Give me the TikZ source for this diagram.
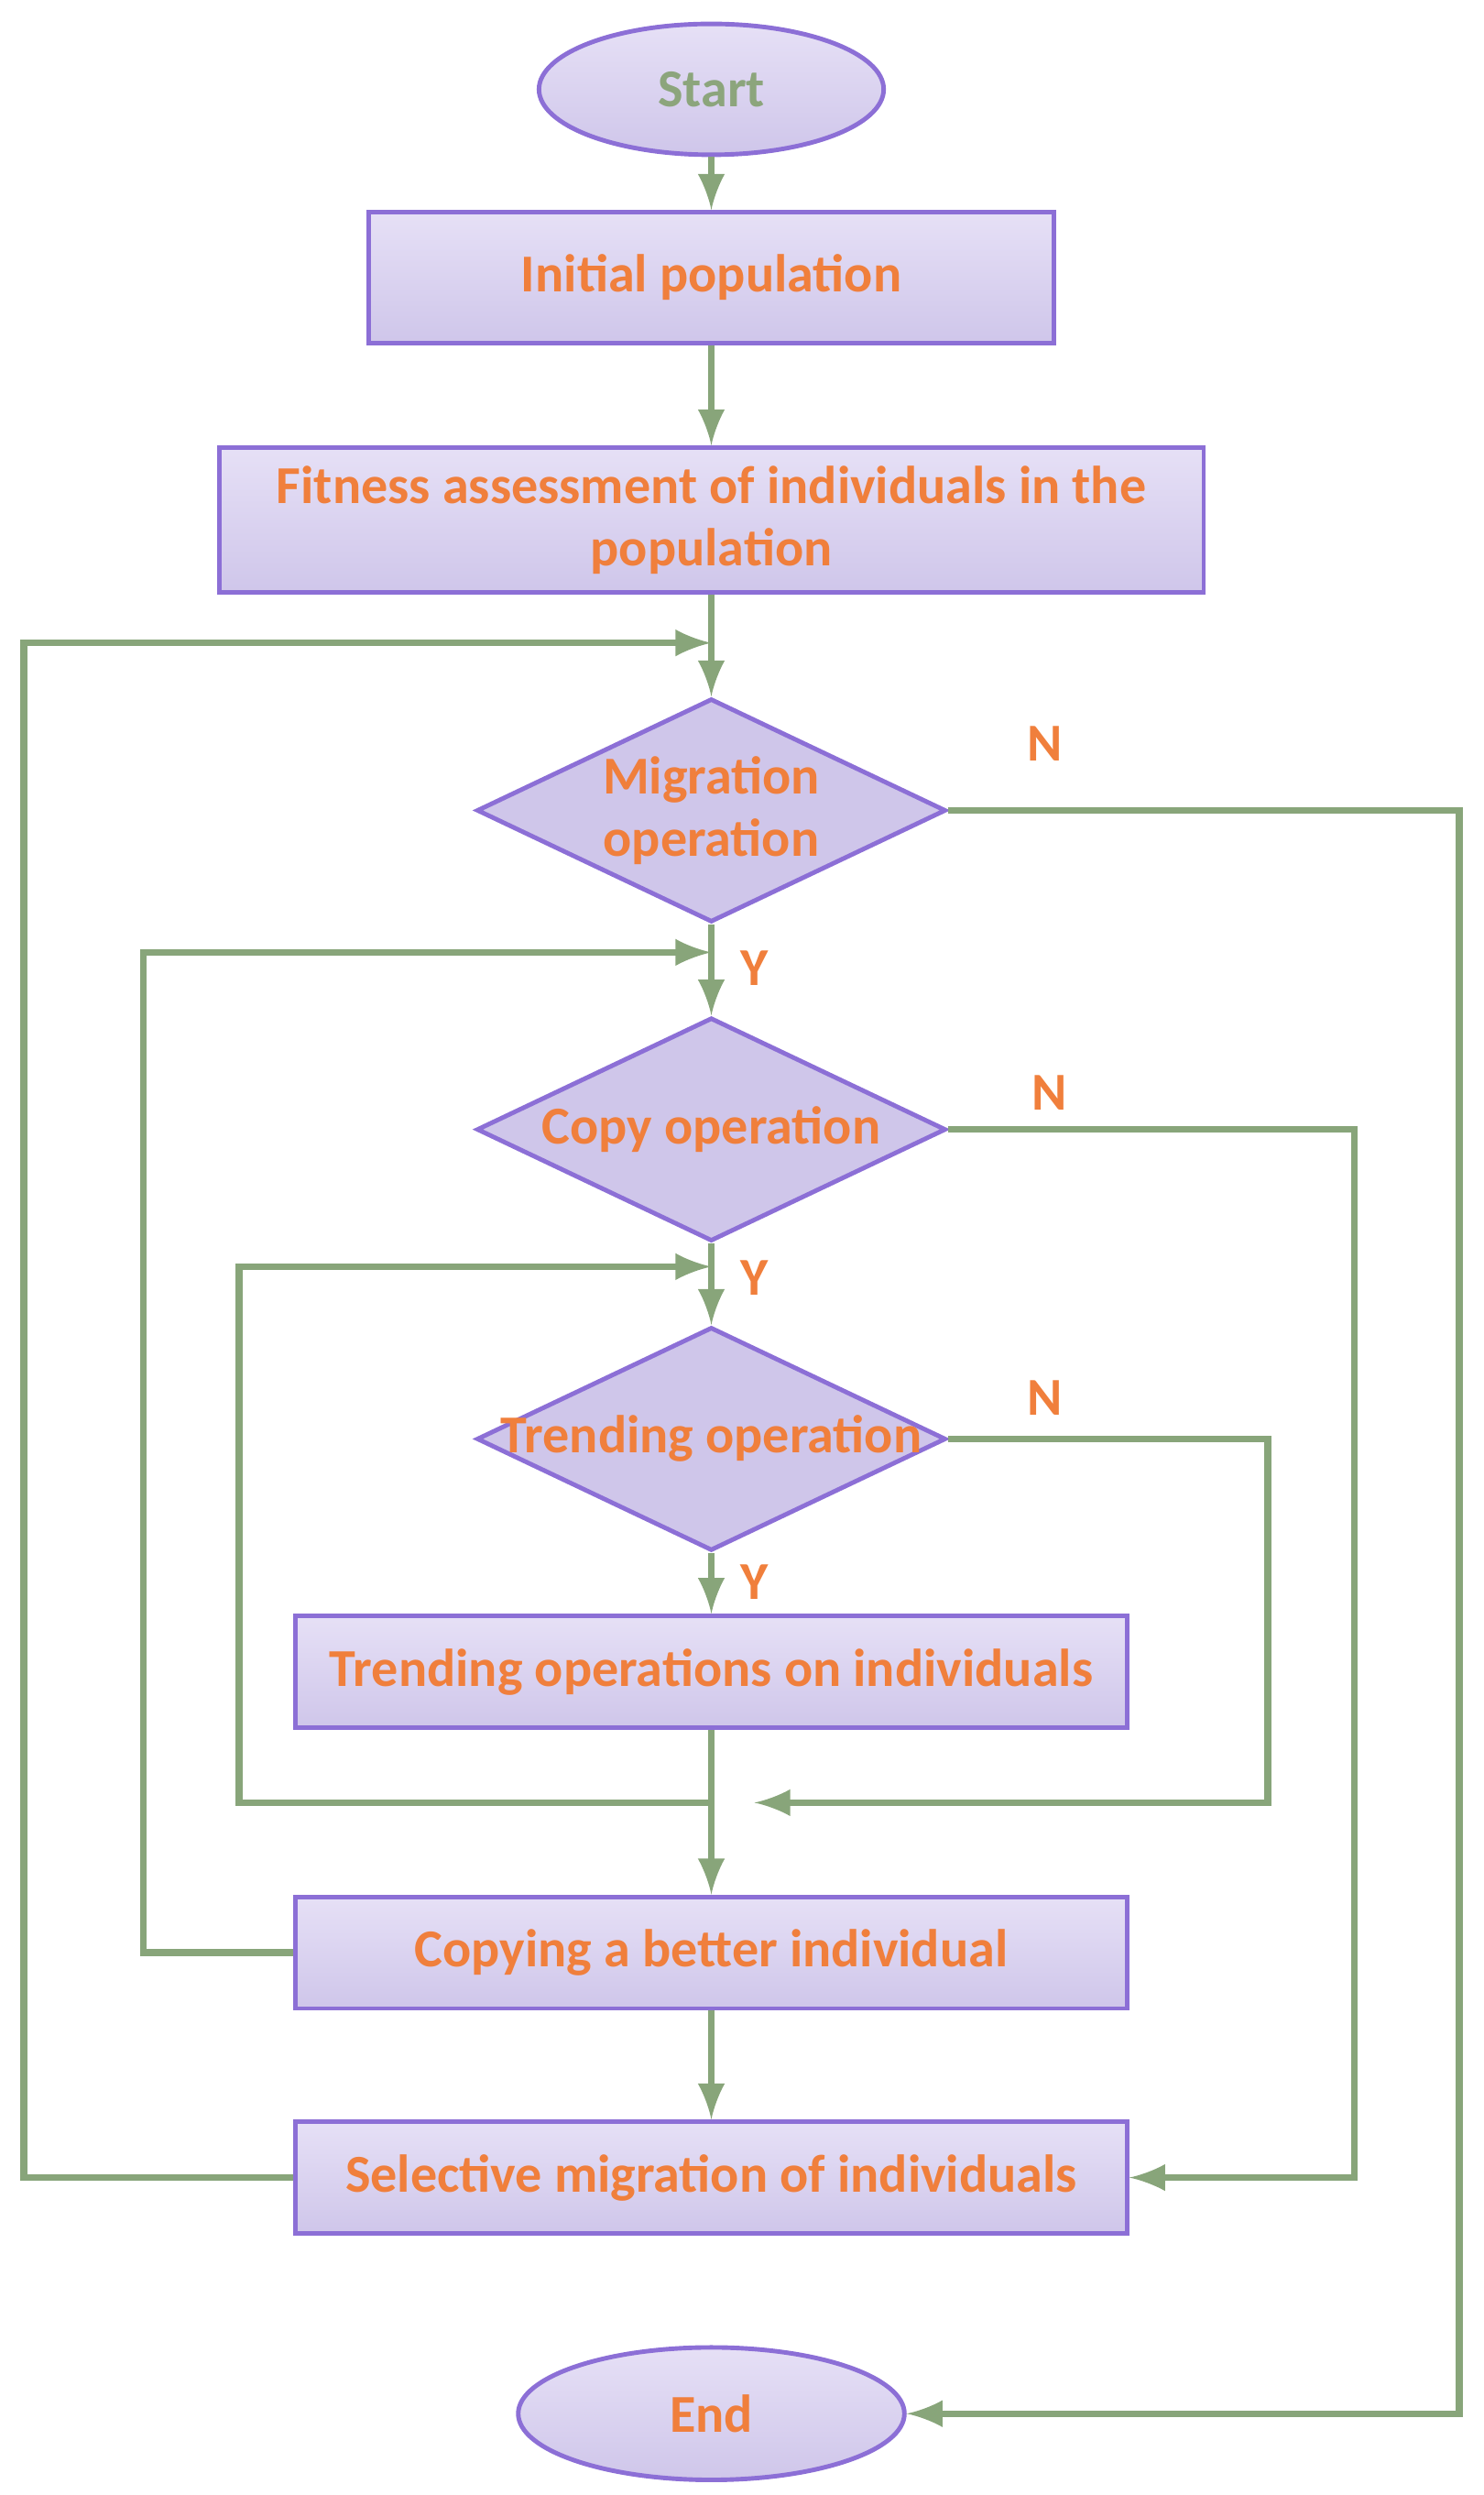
\documentclass[tikz,border=0pt]{standalone}
\usepackage{fontspec}
\setmainfont{Carlito}
\usetikzlibrary{arrows,positioning,shapes}
\definecolor{boxfill}{HTML}{CFC6EA}
\definecolor{boxtop}{HTML}{E6E0F6}
\definecolor{boxline}{HTML}{8C6FD6}
\definecolor{txtorange}{HTML}{F07F3C}
\definecolor{txtgreen}{HTML}{8CA57C}
\definecolor{linegreen}{HTML}{88A57A}
\tikzset{
    %Define standard arrow tip
    >=latex,
    %Define style for boxes
    stepnode/.style={
             rectangle,
             draw=boxline, thick,
             top color=boxtop, bottom color=boxfill,
             text=txtorange,
             font=\bfseries\fontsize{9.5}{11}\selectfont,
             align=center},
    termnode/.style={
             ellipse,
             draw=boxline, thick,
             top color=boxtop, bottom color=boxfill,
             text=txtgreen,
             font=\bfseries\fontsize{9.5}{11}\selectfont},
    testnode/.style={
             diamond,
             draw=boxline, thick,
             fill=boxfill,
             text=txtorange, inner sep=-1cm,
             shape aspect=2.1, align=center,
             font=\bfseries\fontsize{9.5}{11}\selectfont,
             minimum width=2.94cm, minimum height=1.4cm},
    % Define arrow style
    flowarrow/.style={
            ->,
            draw=linegreen,
            very thick},
    flowline/.style={
            draw=linegreen,
            very thick},
    yn/.style={
            text=txtorange,
            font=\bfseries\fontsize{9.5}{11}\selectfont}
}
\begin{document}
\begin{tikzpicture}[x=0.01cm, y=-0.01cm]
 \useasboundingbox (0,0) rectangle (930,1564);
 \node[termnode, minimum width=2.16cm, minimum height=0.82cm] (start) at (446,56) {Start};
 \node[stepnode, minimum width=4.29cm, minimum height=0.82cm] (init) at (446,174) {Initial population};
 \node[stepnode, minimum width=6.17cm, minimum height=0.81cm] (fit) at (446,326) {Fitness assessment of individuals in the\\population};
 \node[testnode] (migr) at (446,508) {Migration\\operation};
 \node[testnode] (copy) at (446,708) {Copy operation};
 \node[testnode] (trend) at (446,902) {Trending operation};
 \node[stepnode, minimum width=5.21cm, minimum height=0.7cm] (trendind) at (446,1048) {Trending operations on individuals};
 \node[stepnode, minimum width=5.21cm, minimum height=0.7cm] (better) at (446,1224) {Copying a better individual};
 \node[stepnode, minimum width=5.21cm, minimum height=0.7cm] (select) at (446,1365) {Selective migration of individuals};
 \node[termnode, text=txtorange, minimum width=2.42cm, minimum height=0.83cm] (end) at (446,1513) {End};
 % labels
 \node[yn] (y1) at (473,607) {Y};
 \node[yn] (y2) at (473,801) {Y};
 \node[yn] (y3) at (473,992) {Y};
 \node[yn] (n1) at (655,466) {N};
 \node[yn] (n2) at (658,685) {N};
 \node[yn] (n3) at (655,876) {N};
 % helper points
 \coordinate (m1) at (446,403);
 \coordinate (m2) at (446,597);
 \coordinate (m3) at (446,794);
 \coordinate (j1) at (446,1130);
 \coordinate (j2) at (473,1130);
 % main flow
 \draw[flowarrow] (start) -- (init);
 \draw[flowarrow] (init) -- (fit);
 \draw[flowline] (fit) -- (m1);
 \draw[flowarrow] (m1) -- (migr);
 \draw[flowline] (migr) -- (m2);
 \draw[flowarrow] (m2) -- (copy);
 \draw[flowline] (copy) -- (m3);
 \draw[flowarrow] (m3) -- (trend);
 \draw[flowarrow] (trend) -- (trendind);
 \draw[flowline] (trendind) -- (j1);
 \draw[flowarrow] (j1) -- (better);
 \draw[flowarrow] (better) -- (select);
 % loops back
 \draw[flowarrow] (select.west) -| (15,403) -- (m1);
 \draw[flowarrow] (better.west) -| (90,597) -- (m2);
 \draw[flowarrow] (j1) -| (150,794) -- (m3);
 % N branches
 \draw[flowarrow] (trend.east) -| (795,1130) -- (j2);
 \draw[flowarrow] (copy.east) -| (849,1365) -- (select.east);
 \draw[flowarrow] (migr.east) -| (915,1513) -- (end.east);
\end{tikzpicture}
\end{document}
